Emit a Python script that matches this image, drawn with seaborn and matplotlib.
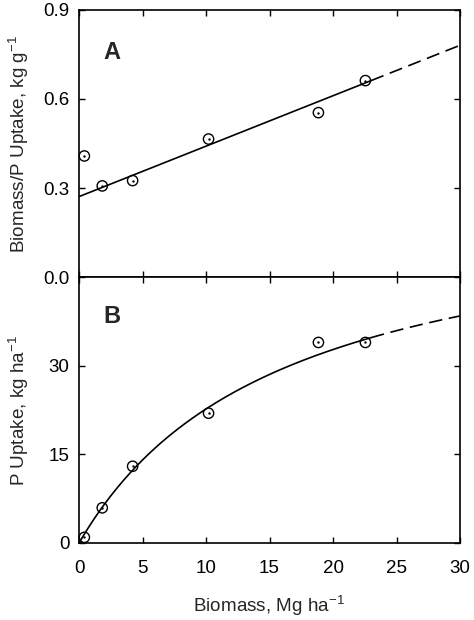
import numpy as np
import pandas as pd
import matplotlib
matplotlib.use("Agg")
import matplotlib.pyplot as plt
import seaborn as sns

# === 1. Data ===
biomass = [0.42, 1.83, 4.22, 10.2, 18.85, 22.55]          # Mg/ha
ratio = [0.408, 0.307, 0.325, 0.465, 0.554, 0.662]        # kg/g (panel A)
p_uptake = [0.96, 5.95, 12.98, 21.96, 33.93, 33.93]       # kg/ha (panel B)

# linear fit of panel A, as drawn (intercept and slope)
fit_intercept = 0.271
fit_slope = 0.0170
fit_end = 23.0      # solid up to here, dashed beyond
x_max = 30.0

pts = pd.DataFrame({"biomass": biomass, "ratio": ratio, "uptake": p_uptake})

# fitted curves: A is the line, B follows uptake = biomass / (a + b * biomass)
xs = np.linspace(0, x_max, 301)
fit = pd.DataFrame({"biomass": xs})
fit["ratio"] = fit_intercept + fit_slope * fit["biomass"]
fit["uptake"] = fit["biomass"] / fit["ratio"]
fit["part"] = np.where(fit["biomass"] <= fit_end, "fit", "extrapolated")
# make the dashed part start where the solid one ends
edge = fit[fit["biomass"] <= fit_end].tail(1).copy()
edge["part"] = "extrapolated"
fit = pd.concat([fit, edge]).sort_values("biomass")

# === 2. Style ===
sns.set_style("ticks")
plt.rcParams["font.family"] = ["Liberation Sans", "DejaVu Sans"]
plt.rcParams["mathtext.fontset"] = "custom"
plt.rcParams["mathtext.rm"] = "Liberation Sans"

fig = plt.figure(figsize=(4.74, 6.2), dpi=100)
ax_a = fig.add_axes([0.1667, 0.5532, 0.8038, 0.4307])
ax_b = fig.add_axes([0.1667, 0.1242, 0.8038, 0.4290])


def draw_panel(ax, col):
    sns.lineplot(data=fit, x="biomass", y=col, style="part",
                 dashes={"fit": "", "extrapolated": (8, 4)},
                 color="black", linewidth=1.2, legend=False, ax=ax,
                 sort=False, estimator=None)
    sns.scatterplot(data=pts, x="biomass", y=col, marker="o", s=55,
                    facecolor="none", edgecolor="black", linewidth=1.0,
                    ax=ax, zorder=3, clip_on=False)
    sns.scatterplot(data=pts, x="biomass", y=col, marker="o", s=3,
                    color="black", linewidth=0, ax=ax, zorder=4, clip_on=False)
    ax.set_xlim(0, x_max)
    ax.set_xticks([0, 5, 10, 15, 20, 25, 30])
    ax.tick_params(direction="in", length=4, width=1, top=True, right=True,
                   labelsize=13.5, colors="black")
    ax.tick_params(axis="y", pad=7)
    ax.tick_params(axis="x", pad=12)
    for sp in ax.spines.values():
        sp.set_linewidth(1.2)
        sp.set_color("black")


# === 3. Panel A ===
draw_panel(ax_a, "ratio")
ax_a.set_ylim(0, 0.9)
ax_a.set_yticks([0.0, 0.3, 0.6, 0.9])
ax_a.set_yticklabels(["0.0", "0.3", "0.6", "0.9"])
ax_a.set_xticklabels([])
ax_a.set_xlabel("")
ax_a.set_ylabel(r"Biomass/P Uptake, kg g$^{-1}$", fontsize=13.6)
ax_a.yaxis.set_label_coords(-0.125, 0.5)
ax_a.text(0.065, 0.84, "A", transform=ax_a.transAxes, fontsize=17,
          fontweight="bold", ha="left", va="center")

# === 4. Panel B ===
draw_panel(ax_b, "uptake")
ax_b.set_ylim(0, 45)
ax_b.set_yticks([0, 15, 30, 45])
ax_b.set_yticklabels(["0", "15", "30", ""])
ax_b.set_xticklabels(["0", "5", "10", "15", "20", "25", "30"])
ax_b.set_ylabel(r"P Uptake, kg ha$^{-1}$", fontsize=13.6)
ax_b.yaxis.set_label_coords(-0.125, 0.5)
ax_b.set_xlabel(r"Biomass, Mg ha$^{-1}$", fontsize=13.6)
ax_b.xaxis.set_label_coords(0.5, -0.19)
ax_b.text(0.065, 0.85, "B", transform=ax_b.transAxes, fontsize=17,
          fontweight="bold", ha="left", va="center")

fig.savefig("out.png", dpi=100, facecolor="white")
plt.close()
